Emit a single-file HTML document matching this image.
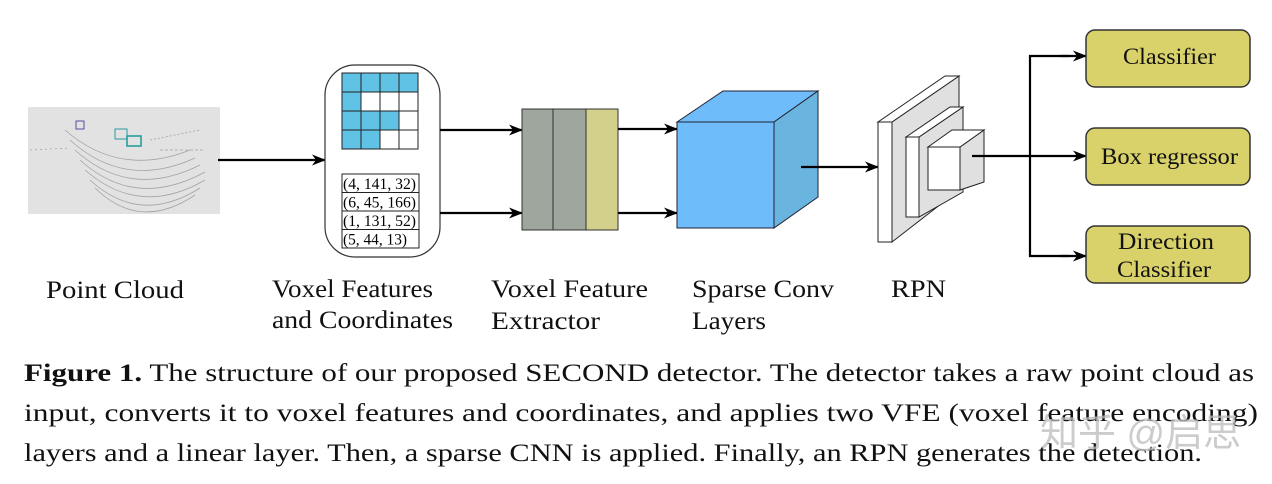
<!DOCTYPE html>
<html><head><meta charset="utf-8"><style>
html,body{margin:0;padding:0;background:#fff;width:1272px;height:484px;overflow:hidden}
svg text{font-family:"Liberation Serif",serif}
</style></head><body>
<svg width="1272" height="484" viewBox="0 0 1272 484" xmlns="http://www.w3.org/2000/svg">
<defs>
<marker id="a" markerWidth="14" markerHeight="11" refX="13" refY="5.5" orient="auto" markerUnits="userSpaceOnUse">
<path d="M0,0 L14,5.5 L0,11 L4,5.5 Z" fill="#000"/></marker>
</defs>
<!-- point cloud -->
<rect x="28" y="107" width="192" height="107" fill="#e2e2e2"/>
<g stroke="#999" stroke-width="0.8" fill="none" opacity="0.85">
<path d="M65,130 Q120,178 190,150"/><path d="M70,140 Q125,190 195,158"/>
<path d="M75,150 Q130,200 200,165"/><path d="M80,160 Q135,210 205,172"/><path d="M85,170 Q140,218 205,180"/>
<path d="M90,180 Q140,226 200,188"/><path d="M95,188 Q140,232 195,195"/>
<path d="M30,150 L70,148" stroke-dasharray="2 3"/><path d="M150,140 L200,130" stroke-dasharray="2 2"/>
<path d="M160,150 L205,150" stroke-dasharray="3 2"/>
</g>
<rect x="76" y="121" width="8" height="8" fill="none" stroke="#5050a0"/>
<rect x="115" y="129" width="12" height="10" fill="none" stroke="#2a9aa0"/>
<rect x="127" y="136" width="14" height="10" fill="none" stroke="#1a9a9a" stroke-width="1.5"/>
<line x1="218" y1="160" x2="325" y2="160" stroke="#000" stroke-width="2.2" marker-end="url(#a)"/>
<!-- voxel features -->
<rect x="325" y="65" width="115" height="192" rx="30" fill="#fff" stroke="#333" stroke-width="1.2"/>
<g fill="#60c3e6">
<rect x="342" y="73" width="76" height="19"/><rect x="342" y="92" width="19" height="19"/>
<rect x="342" y="111" width="57" height="19"/><rect x="342" y="130" width="38" height="19"/>
</g>
<g stroke="#222" stroke-width="1" fill="none">
<rect x="342" y="73" width="76" height="76"/>
<line x1="361" y1="73" x2="361" y2="149"/><line x1="380" y1="73" x2="380" y2="149"/><line x1="399" y1="73" x2="399" y2="149"/>
<line x1="342" y1="92" x2="418" y2="92"/><line x1="342" y1="111" x2="418" y2="111"/><line x1="342" y1="130" x2="418" y2="130"/>
<rect x="342" y="174" width="77" height="74"/>
<line x1="342" y1="192.5" x2="419" y2="192.5"/><line x1="342" y1="211" x2="419" y2="211"/><line x1="342" y1="229.5" x2="419" y2="229.5"/>
</g>
<g font-size="16">
<text x="343" y="189" textLength="73" lengthAdjust="spacingAndGlyphs">(4, 141, 32)</text>
<text x="343" y="207.5" textLength="73" lengthAdjust="spacingAndGlyphs">(6, 45, 166)</text>
<text x="343" y="226" textLength="73" lengthAdjust="spacingAndGlyphs">(1, 131, 52)</text>
<text x="343" y="244.5" textLength="64" lengthAdjust="spacingAndGlyphs">(5, 44, 13)</text>
</g>
<line x1="440" y1="130" x2="522" y2="130" stroke="#000" stroke-width="2.2" marker-end="url(#a)"/>
<line x1="440" y1="213" x2="522" y2="213" stroke="#000" stroke-width="2.2" marker-end="url(#a)"/>
<!-- VFE -->
<rect x="522" y="109" width="31" height="121" fill="#9ea69e" stroke="#333"/>
<rect x="553" y="109" width="33" height="121" fill="#9ea69e" stroke="#333"/>
<rect x="586" y="109" width="32" height="121" fill="#d3d08c" stroke="#333"/>
<line x1="618" y1="129" x2="677" y2="129" stroke="#000" stroke-width="2.2" marker-end="url(#a)"/>
<line x1="618" y1="213" x2="677" y2="213" stroke="#000" stroke-width="2.2" marker-end="url(#a)"/>
<!-- sparse cube -->
<polygon points="677,122 723,91 818,91 774,122" fill="#6ebcf9" stroke="#223" stroke-width="1"/>
<polygon points="774,122 818,91 818,197 774,228" fill="#6ab4e0" stroke="#223" stroke-width="1"/>
<rect x="677" y="122" width="97" height="106" fill="#6ebcf9" stroke="#223" stroke-width="1"/>
<line x1="801" y1="167" x2="878" y2="167" stroke="#000" stroke-width="2.2" marker-end="url(#a)"/>
<!-- RPN -->
<g stroke="#222" stroke-width="1">
<polygon points="892,122 959,76 959,190 892,242" fill="#e0e0e0"/>
<polygon points="878,122 945,76 959,76 892,122" fill="#fff"/>
<rect x="878" y="122" width="14" height="120" fill="#fff"/>
<polygon points="919,137 963,107 963,192 919,217" fill="#e0e0e0"/>
<polygon points="906,137 950,107 963,107 919,137" fill="#fff"/>
<rect x="906" y="137" width="13" height="80" fill="#fff"/>
<polygon points="960,147 984,130 984,182 960,190" fill="#e0e0e0"/>
<polygon points="928,147 952,130 984,130 960,147" fill="#fff"/>
<rect x="928" y="147" width="32" height="43" fill="#fff"/>
</g>
<g stroke="#000" stroke-width="2.2" fill="none">
<line x1="972" y1="156" x2="1086" y2="156" marker-end="url(#a)"/>
<polyline points="1070,56 1030,56 1030,256 1070,256"/>
</g>
<line x1="1060" y1="56" x2="1086" y2="56" stroke="#000" stroke-width="2.2" marker-end="url(#a)"/>
<line x1="1060" y1="256" x2="1086" y2="256" stroke="#000" stroke-width="2.2" marker-end="url(#a)"/>
<g fill="#d9d16a" stroke="#333" stroke-width="1.5">
<rect x="1086" y="30" width="164" height="57" rx="9"/>
<rect x="1086" y="128" width="164" height="57" rx="9"/>
<rect x="1086" y="226" width="164" height="57" rx="9"/>
</g>
<g font-size="23" fill="#111">
<text x="1123" y="64" textLength="93" lengthAdjust="spacingAndGlyphs">Classifier</text>
<text x="1101" y="164" textLength="137" lengthAdjust="spacingAndGlyphs">Box regressor</text>
<text x="1118" y="249" textLength="96" lengthAdjust="spacingAndGlyphs">Direction</text>
<text x="1117" y="277" textLength="94" lengthAdjust="spacingAndGlyphs">Classifier</text>
</g>
<g font-size="25" fill="#111">
<text x="46" y="298" textLength="138" lengthAdjust="spacingAndGlyphs">Point Cloud</text>
<text x="272" y="297" textLength="161" lengthAdjust="spacingAndGlyphs">Voxel Features</text>
<text x="272" y="328" textLength="181" lengthAdjust="spacingAndGlyphs">and Coordinates</text>
<text x="491" y="297" textLength="157" lengthAdjust="spacingAndGlyphs">Voxel Feature</text>
<text x="491" y="329" textLength="109" lengthAdjust="spacingAndGlyphs">Extractor</text>
<text x="692" y="297" textLength="142" lengthAdjust="spacingAndGlyphs">Sparse Conv</text>
<text x="692" y="329" textLength="74" lengthAdjust="spacingAndGlyphs">Layers</text>
<text x="891" y="297" textLength="55" lengthAdjust="spacingAndGlyphs">RPN</text>
</g>
<g font-size="25" fill="#111">
<text x="24" y="381" textLength="1230" lengthAdjust="spacingAndGlyphs"><tspan font-weight="bold">Figure 1.</tspan> The structure of our proposed SECOND detector. The detector takes a raw point cloud as</text>
<text x="24" y="421" textLength="1234" lengthAdjust="spacingAndGlyphs">input, converts it to voxel features and coordinates, and applies two VFE (voxel feature encoding)</text>
<text x="24" y="461" textLength="1178" lengthAdjust="spacingAndGlyphs">layers and a linear layer. Then, a sparse CNN is applied. Finally, an RPN generates the detection.</text>
</g>
<text x="1040" y="446" font-size="38" fill="#bbb" opacity="0.75" style="font-family:'Liberation Sans','Noto Sans CJK SC',sans-serif">知乎 @启思</text>
</svg>
</body></html>
